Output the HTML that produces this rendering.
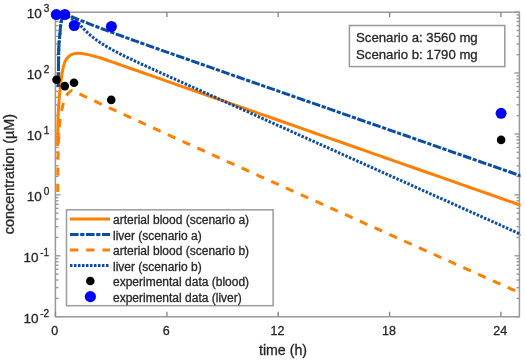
<!DOCTYPE html>
<html><head><meta charset="utf-8"><style>
html,body{margin:0;padding:0;background:#fff;width:526px;height:361px;overflow:hidden}
svg{display:block;font-family:"Liberation Sans", sans-serif;will-change:transform}
text{stroke:#262626;stroke-width:0.3px}
</style></head><body>
<svg width="526" height="361" viewBox="0 0 526 361">
<defs><clipPath id="ax"><rect x="55.5" y="12.1" width="465.0" height="304.6"/></clipPath></defs>
<path d="M55.4 316.8 V12.2 H519.4 V316.8 Z" fill="none" stroke="#999999" stroke-width="1.5"/>
<line x1="55.5" y1="316.7" x2="55.5" y2="311.7" stroke="#808080" stroke-width="1.3"/>
<line x1="55.5" y1="12.1" x2="55.5" y2="17.1" stroke="#808080" stroke-width="1.3"/>
<text x="54.8" y="335" text-anchor="middle" font-size="12.5" fill="#262626">0</text>
<line x1="166.9" y1="316.7" x2="166.9" y2="311.7" stroke="#808080" stroke-width="1.3"/>
<line x1="166.9" y1="12.1" x2="166.9" y2="17.1" stroke="#808080" stroke-width="1.3"/>
<text x="166.2" y="335" text-anchor="middle" font-size="12.5" fill="#262626">6</text>
<line x1="278.2" y1="316.7" x2="278.2" y2="311.7" stroke="#808080" stroke-width="1.3"/>
<line x1="278.2" y1="12.1" x2="278.2" y2="17.1" stroke="#808080" stroke-width="1.3"/>
<text x="277.5" y="335" text-anchor="middle" font-size="12.5" fill="#262626">12</text>
<line x1="389.6" y1="316.7" x2="389.6" y2="311.7" stroke="#808080" stroke-width="1.3"/>
<line x1="389.6" y1="12.1" x2="389.6" y2="17.1" stroke="#808080" stroke-width="1.3"/>
<text x="388.9" y="335" text-anchor="middle" font-size="12.5" fill="#262626">18</text>
<line x1="500.9" y1="316.7" x2="500.9" y2="311.7" stroke="#808080" stroke-width="1.3"/>
<line x1="500.9" y1="12.1" x2="500.9" y2="17.1" stroke="#808080" stroke-width="1.3"/>
<text x="500.2" y="335" text-anchor="middle" font-size="12.5" fill="#262626">24</text>
<line x1="55.5" y1="316.70" x2="60.5" y2="316.70" stroke="#999999" stroke-width="1.4"/>
<line x1="519.5" y1="316.70" x2="514.5" y2="316.70" stroke="#999999" stroke-width="1.4"/>
<line x1="55.5" y1="298.36" x2="58.5" y2="298.36" stroke="#999999" stroke-width="1.4"/>
<line x1="519.5" y1="298.36" x2="516.5" y2="298.36" stroke="#999999" stroke-width="1.4"/>
<line x1="55.5" y1="287.63" x2="58.5" y2="287.63" stroke="#999999" stroke-width="1.4"/>
<line x1="519.5" y1="287.63" x2="516.5" y2="287.63" stroke="#999999" stroke-width="1.4"/>
<line x1="55.5" y1="280.02" x2="58.5" y2="280.02" stroke="#999999" stroke-width="1.4"/>
<line x1="519.5" y1="280.02" x2="516.5" y2="280.02" stroke="#999999" stroke-width="1.4"/>
<line x1="55.5" y1="274.12" x2="58.5" y2="274.12" stroke="#999999" stroke-width="1.4"/>
<line x1="519.5" y1="274.12" x2="516.5" y2="274.12" stroke="#999999" stroke-width="1.4"/>
<line x1="55.5" y1="269.30" x2="58.5" y2="269.30" stroke="#999999" stroke-width="1.4"/>
<line x1="519.5" y1="269.30" x2="516.5" y2="269.30" stroke="#999999" stroke-width="1.4"/>
<line x1="55.5" y1="265.22" x2="58.5" y2="265.22" stroke="#999999" stroke-width="1.4"/>
<line x1="519.5" y1="265.22" x2="516.5" y2="265.22" stroke="#999999" stroke-width="1.4"/>
<line x1="55.5" y1="261.68" x2="58.5" y2="261.68" stroke="#999999" stroke-width="1.4"/>
<line x1="519.5" y1="261.68" x2="516.5" y2="261.68" stroke="#999999" stroke-width="1.4"/>
<line x1="55.5" y1="258.57" x2="58.5" y2="258.57" stroke="#999999" stroke-width="1.4"/>
<line x1="519.5" y1="258.57" x2="516.5" y2="258.57" stroke="#999999" stroke-width="1.4"/>
<text x="49.2" y="316.70" text-anchor="end" font-size="10.0" fill="#262626">-2</text>
<text x="38.51" y="322.50" text-anchor="end" font-size="13.5" fill="#262626">10</text>
<line x1="55.5" y1="255.78" x2="60.5" y2="255.78" stroke="#999999" stroke-width="1.4"/>
<line x1="519.5" y1="255.78" x2="514.5" y2="255.78" stroke="#999999" stroke-width="1.4"/>
<line x1="55.5" y1="237.44" x2="58.5" y2="237.44" stroke="#999999" stroke-width="1.4"/>
<line x1="519.5" y1="237.44" x2="516.5" y2="237.44" stroke="#999999" stroke-width="1.4"/>
<line x1="55.5" y1="226.71" x2="58.5" y2="226.71" stroke="#999999" stroke-width="1.4"/>
<line x1="519.5" y1="226.71" x2="516.5" y2="226.71" stroke="#999999" stroke-width="1.4"/>
<line x1="55.5" y1="219.10" x2="58.5" y2="219.10" stroke="#999999" stroke-width="1.4"/>
<line x1="519.5" y1="219.10" x2="516.5" y2="219.10" stroke="#999999" stroke-width="1.4"/>
<line x1="55.5" y1="213.20" x2="58.5" y2="213.20" stroke="#999999" stroke-width="1.4"/>
<line x1="519.5" y1="213.20" x2="516.5" y2="213.20" stroke="#999999" stroke-width="1.4"/>
<line x1="55.5" y1="208.38" x2="58.5" y2="208.38" stroke="#999999" stroke-width="1.4"/>
<line x1="519.5" y1="208.38" x2="516.5" y2="208.38" stroke="#999999" stroke-width="1.4"/>
<line x1="55.5" y1="204.30" x2="58.5" y2="204.30" stroke="#999999" stroke-width="1.4"/>
<line x1="519.5" y1="204.30" x2="516.5" y2="204.30" stroke="#999999" stroke-width="1.4"/>
<line x1="55.5" y1="200.76" x2="58.5" y2="200.76" stroke="#999999" stroke-width="1.4"/>
<line x1="519.5" y1="200.76" x2="516.5" y2="200.76" stroke="#999999" stroke-width="1.4"/>
<line x1="55.5" y1="197.65" x2="58.5" y2="197.65" stroke="#999999" stroke-width="1.4"/>
<line x1="519.5" y1="197.65" x2="516.5" y2="197.65" stroke="#999999" stroke-width="1.4"/>
<text x="49.2" y="255.78" text-anchor="end" font-size="10.0" fill="#262626">-1</text>
<text x="38.51" y="261.58" text-anchor="end" font-size="13.5" fill="#262626">10</text>
<line x1="55.5" y1="194.86" x2="60.5" y2="194.86" stroke="#999999" stroke-width="1.4"/>
<line x1="519.5" y1="194.86" x2="514.5" y2="194.86" stroke="#999999" stroke-width="1.4"/>
<line x1="55.5" y1="176.52" x2="58.5" y2="176.52" stroke="#999999" stroke-width="1.4"/>
<line x1="519.5" y1="176.52" x2="516.5" y2="176.52" stroke="#999999" stroke-width="1.4"/>
<line x1="55.5" y1="165.79" x2="58.5" y2="165.79" stroke="#999999" stroke-width="1.4"/>
<line x1="519.5" y1="165.79" x2="516.5" y2="165.79" stroke="#999999" stroke-width="1.4"/>
<line x1="55.5" y1="158.18" x2="58.5" y2="158.18" stroke="#999999" stroke-width="1.4"/>
<line x1="519.5" y1="158.18" x2="516.5" y2="158.18" stroke="#999999" stroke-width="1.4"/>
<line x1="55.5" y1="152.28" x2="58.5" y2="152.28" stroke="#999999" stroke-width="1.4"/>
<line x1="519.5" y1="152.28" x2="516.5" y2="152.28" stroke="#999999" stroke-width="1.4"/>
<line x1="55.5" y1="147.46" x2="58.5" y2="147.46" stroke="#999999" stroke-width="1.4"/>
<line x1="519.5" y1="147.46" x2="516.5" y2="147.46" stroke="#999999" stroke-width="1.4"/>
<line x1="55.5" y1="143.38" x2="58.5" y2="143.38" stroke="#999999" stroke-width="1.4"/>
<line x1="519.5" y1="143.38" x2="516.5" y2="143.38" stroke="#999999" stroke-width="1.4"/>
<line x1="55.5" y1="139.84" x2="58.5" y2="139.84" stroke="#999999" stroke-width="1.4"/>
<line x1="519.5" y1="139.84" x2="516.5" y2="139.84" stroke="#999999" stroke-width="1.4"/>
<line x1="55.5" y1="136.73" x2="58.5" y2="136.73" stroke="#999999" stroke-width="1.4"/>
<line x1="519.5" y1="136.73" x2="516.5" y2="136.73" stroke="#999999" stroke-width="1.4"/>
<text x="49.2" y="194.86" text-anchor="end" font-size="10.0" fill="#262626">0</text>
<text x="41.84" y="200.66" text-anchor="end" font-size="13.5" fill="#262626">10</text>
<line x1="55.5" y1="133.94" x2="60.5" y2="133.94" stroke="#999999" stroke-width="1.4"/>
<line x1="519.5" y1="133.94" x2="514.5" y2="133.94" stroke="#999999" stroke-width="1.4"/>
<line x1="55.5" y1="115.60" x2="58.5" y2="115.60" stroke="#999999" stroke-width="1.4"/>
<line x1="519.5" y1="115.60" x2="516.5" y2="115.60" stroke="#999999" stroke-width="1.4"/>
<line x1="55.5" y1="104.87" x2="58.5" y2="104.87" stroke="#999999" stroke-width="1.4"/>
<line x1="519.5" y1="104.87" x2="516.5" y2="104.87" stroke="#999999" stroke-width="1.4"/>
<line x1="55.5" y1="97.26" x2="58.5" y2="97.26" stroke="#999999" stroke-width="1.4"/>
<line x1="519.5" y1="97.26" x2="516.5" y2="97.26" stroke="#999999" stroke-width="1.4"/>
<line x1="55.5" y1="91.36" x2="58.5" y2="91.36" stroke="#999999" stroke-width="1.4"/>
<line x1="519.5" y1="91.36" x2="516.5" y2="91.36" stroke="#999999" stroke-width="1.4"/>
<line x1="55.5" y1="86.54" x2="58.5" y2="86.54" stroke="#999999" stroke-width="1.4"/>
<line x1="519.5" y1="86.54" x2="516.5" y2="86.54" stroke="#999999" stroke-width="1.4"/>
<line x1="55.5" y1="82.46" x2="58.5" y2="82.46" stroke="#999999" stroke-width="1.4"/>
<line x1="519.5" y1="82.46" x2="516.5" y2="82.46" stroke="#999999" stroke-width="1.4"/>
<line x1="55.5" y1="78.92" x2="58.5" y2="78.92" stroke="#999999" stroke-width="1.4"/>
<line x1="519.5" y1="78.92" x2="516.5" y2="78.92" stroke="#999999" stroke-width="1.4"/>
<line x1="55.5" y1="75.81" x2="58.5" y2="75.81" stroke="#999999" stroke-width="1.4"/>
<line x1="519.5" y1="75.81" x2="516.5" y2="75.81" stroke="#999999" stroke-width="1.4"/>
<text x="49.2" y="133.94" text-anchor="end" font-size="10.0" fill="#262626">1</text>
<text x="41.84" y="139.74" text-anchor="end" font-size="13.5" fill="#262626">10</text>
<line x1="55.5" y1="73.02" x2="60.5" y2="73.02" stroke="#999999" stroke-width="1.4"/>
<line x1="519.5" y1="73.02" x2="514.5" y2="73.02" stroke="#999999" stroke-width="1.4"/>
<line x1="55.5" y1="54.68" x2="58.5" y2="54.68" stroke="#999999" stroke-width="1.4"/>
<line x1="519.5" y1="54.68" x2="516.5" y2="54.68" stroke="#999999" stroke-width="1.4"/>
<line x1="55.5" y1="43.95" x2="58.5" y2="43.95" stroke="#999999" stroke-width="1.4"/>
<line x1="519.5" y1="43.95" x2="516.5" y2="43.95" stroke="#999999" stroke-width="1.4"/>
<line x1="55.5" y1="36.34" x2="58.5" y2="36.34" stroke="#999999" stroke-width="1.4"/>
<line x1="519.5" y1="36.34" x2="516.5" y2="36.34" stroke="#999999" stroke-width="1.4"/>
<line x1="55.5" y1="30.44" x2="58.5" y2="30.44" stroke="#999999" stroke-width="1.4"/>
<line x1="519.5" y1="30.44" x2="516.5" y2="30.44" stroke="#999999" stroke-width="1.4"/>
<line x1="55.5" y1="25.62" x2="58.5" y2="25.62" stroke="#999999" stroke-width="1.4"/>
<line x1="519.5" y1="25.62" x2="516.5" y2="25.62" stroke="#999999" stroke-width="1.4"/>
<line x1="55.5" y1="21.54" x2="58.5" y2="21.54" stroke="#999999" stroke-width="1.4"/>
<line x1="519.5" y1="21.54" x2="516.5" y2="21.54" stroke="#999999" stroke-width="1.4"/>
<line x1="55.5" y1="18.00" x2="58.5" y2="18.00" stroke="#999999" stroke-width="1.4"/>
<line x1="519.5" y1="18.00" x2="516.5" y2="18.00" stroke="#999999" stroke-width="1.4"/>
<line x1="55.5" y1="14.89" x2="58.5" y2="14.89" stroke="#999999" stroke-width="1.4"/>
<line x1="519.5" y1="14.89" x2="516.5" y2="14.89" stroke="#999999" stroke-width="1.4"/>
<text x="49.2" y="73.02" text-anchor="end" font-size="10.0" fill="#262626">2</text>
<text x="41.84" y="78.82" text-anchor="end" font-size="13.5" fill="#262626">10</text>
<line x1="55.5" y1="12.10" x2="60.5" y2="12.10" stroke="#999999" stroke-width="1.4"/>
<line x1="519.5" y1="12.10" x2="514.5" y2="12.10" stroke="#999999" stroke-width="1.4"/>
<text x="49.2" y="12.10" text-anchor="end" font-size="10.0" fill="#262626">3</text>
<text x="41.84" y="17.90" text-anchor="end" font-size="13.5" fill="#262626">10</text>
<g clip-path="url(#ax)" fill="none" stroke-width="3">
<path d="M57.60 146.00 C57.63 143.33 57.70 135.17 57.80 130.00 C57.90 124.83 57.97 120.25 58.20 115.00 C58.43 109.75 58.85 103.10 59.20 98.50 C59.55 93.90 59.93 90.87 60.30 87.40 C60.67 83.93 60.93 80.93 61.40 77.70 C61.87 74.47 62.47 70.77 63.10 68.00 C63.73 65.23 64.28 63.00 65.20 61.10 C66.12 59.20 67.47 57.73 68.60 56.60 C69.73 55.47 70.60 54.85 72.00 54.30 C73.40 53.75 75.33 53.43 77.00 53.30 C78.67 53.17 80.17 53.28 82.00 53.50 C83.83 53.72 86.00 54.15 88.00 54.60 C90.00 55.05 92.00 55.68 94.00 56.20 C96.00 56.72 98.50 57.27 100.00 57.69 C101.50 58.11 102.00 58.39 103.00 58.74 C104.00 59.09 105.00 59.44 106.00 59.79 C107.00 60.15 108.00 60.50 109.00 60.85 C110.00 61.20 111.00 61.55 112.00 61.90 C113.00 62.25 114.00 62.60 115.00 62.95 C116.00 63.30 117.00 63.65 118.00 64.00 C119.00 64.35 120.00 64.71 121.00 65.06 C122.00 65.41 123.00 65.76 124.00 66.11 C125.00 66.46 126.00 66.81 127.00 67.16 C128.00 67.51 129.00 67.86 130.00 68.21 C131.00 68.56 132.00 68.91 133.00 69.26 C134.00 69.62 135.00 69.97 136.00 70.32 C137.00 70.67 138.33 71.14 139.00 71.37 C139.67 71.60 137.83 70.96 140.00 71.72 C142.17 72.48 148.00 74.53 152.00 75.93 C156.00 77.33 160.00 78.73 164.00 80.14 C168.00 81.54 172.00 82.94 176.00 84.35 C180.00 85.75 184.00 87.15 188.00 88.56 C192.00 89.96 196.00 91.36 200.00 92.76 C204.00 94.17 208.00 95.57 212.00 96.97 C216.00 98.38 220.00 99.78 224.00 101.18 C228.00 102.59 232.00 103.99 236.00 105.39 C240.00 106.79 244.00 108.20 248.00 109.60 C252.00 111.00 256.00 112.41 260.00 113.81 C264.00 115.21 268.00 116.62 272.00 118.02 C276.00 119.42 280.00 120.82 284.00 122.23 C288.00 123.63 292.00 125.03 296.00 126.44 C300.00 127.84 304.00 129.24 308.00 130.65 C312.00 132.05 316.00 133.45 320.00 134.85 C324.00 136.26 328.00 137.66 332.00 139.06 C336.00 140.47 340.00 141.87 344.00 143.27 C348.00 144.68 352.00 146.08 356.00 147.48 C360.00 148.88 364.00 150.29 368.00 151.69 C372.00 153.09 376.00 154.50 380.00 155.90 C384.00 157.30 388.00 158.71 392.00 160.11 C396.00 161.51 400.00 162.91 404.00 164.32 C408.00 165.72 412.00 167.12 416.00 168.53 C420.00 169.93 424.00 171.33 428.00 172.74 C432.00 174.14 436.00 175.54 440.00 176.94 C444.00 178.35 448.00 179.75 452.00 181.15 C456.00 182.56 460.00 183.96 464.00 185.36 C468.00 186.76 472.00 188.17 476.00 189.57 C480.00 190.97 484.00 192.38 488.00 193.78 C492.00 195.18 496.00 196.59 500.00 197.99 C504.00 199.39 508.00 200.79 512.00 202.20 C516.00 203.60 522.00 205.71 524.00 206.41" stroke="#ff8000"/>
<path d="M58.20 87.00 C58.25 84.17 58.40 76.50 58.50 70.00 C58.60 63.50 58.55 54.17 58.80 48.00 C59.05 41.83 59.63 37.27 60.00 33.00 C60.37 28.73 60.57 24.98 61.00 22.40 C61.43 19.82 61.85 18.80 62.60 17.50 C63.35 16.20 64.43 14.93 65.50 14.60 C66.57 14.27 67.92 15.15 69.00 15.52 C70.08 15.89 71.00 16.38 72.00 16.81 C73.00 17.23 74.00 17.65 75.00 18.07 C76.00 18.49 77.00 18.91 78.00 19.32 C79.00 19.73 80.00 20.14 81.00 20.54 C82.00 20.95 83.00 21.35 84.00 21.75 C85.00 22.16 86.00 22.55 87.00 22.95 C88.00 23.34 89.00 23.74 90.00 24.13 C91.00 24.52 92.00 24.91 93.00 25.30 C94.00 25.68 95.00 26.07 96.00 26.45 C97.00 26.83 98.00 27.22 99.00 27.60 C100.00 27.98 101.00 28.35 102.00 28.73 C103.00 29.11 104.00 29.48 105.00 29.86 C106.00 30.23 107.00 30.61 108.00 30.98 C109.00 31.35 110.00 31.72 111.00 32.09 C112.00 32.46 113.00 32.83 114.00 33.20 C115.00 33.56 116.00 33.93 117.00 34.30 C118.00 34.66 119.00 35.03 120.00 35.39 C121.00 35.76 122.00 36.12 123.00 36.48 C124.00 36.84 125.00 37.21 126.00 37.57 C127.00 37.93 128.00 38.29 129.00 38.65 C130.00 39.01 131.00 39.37 132.00 39.73 C133.00 40.09 134.00 40.45 135.00 40.80 C136.00 41.16 137.17 41.58 138.00 41.88 C138.83 42.18 137.67 41.76 140.00 42.59 C142.33 43.42 148.00 45.44 152.00 46.86 C156.00 48.27 160.00 49.69 164.00 51.10 C168.00 52.51 172.00 53.91 176.00 55.32 C180.00 56.73 184.00 58.13 188.00 59.53 C192.00 60.94 196.00 62.34 200.00 63.74 C204.00 65.14 208.00 66.54 212.00 67.94 C216.00 69.34 220.00 70.74 224.00 72.14 C228.00 73.54 232.00 74.94 236.00 76.34 C240.00 77.73 244.00 79.13 248.00 80.53 C252.00 81.93 256.00 83.33 260.00 84.73 C264.00 86.12 268.00 87.52 272.00 88.92 C276.00 90.32 280.00 91.72 284.00 93.11 C288.00 94.51 292.00 95.91 296.00 97.31 C300.00 98.70 304.00 100.10 308.00 101.50 C312.00 102.90 316.00 104.30 320.00 105.69 C324.00 107.09 328.00 108.49 332.00 109.89 C336.00 111.28 340.00 112.68 344.00 114.08 C348.00 115.48 352.00 116.87 356.00 118.27 C360.00 119.67 364.00 121.07 368.00 122.47 C372.00 123.86 376.00 125.26 380.00 126.66 C384.00 128.06 388.00 129.45 392.00 130.85 C396.00 132.25 400.00 133.65 404.00 135.04 C408.00 136.44 412.00 137.84 416.00 139.24 C420.00 140.64 424.00 142.03 428.00 143.43 C432.00 144.83 436.00 146.23 440.00 147.62 C444.00 149.02 448.00 150.42 452.00 151.82 C456.00 153.21 460.00 154.61 464.00 156.01 C468.00 157.41 472.00 158.81 476.00 160.20 C480.00 161.60 484.00 163.00 488.00 164.40 C492.00 165.79 496.00 167.19 500.00 168.59 C504.00 169.99 508.00 171.38 512.00 172.78 C516.00 174.18 522.00 176.28 524.00 176.97" stroke="#0b4da3" stroke-dasharray="8.6 1.6 4.2 1.6"/>
<path d="M57.70 192.00 C57.72 188.50 57.72 178.00 57.80 171.00 C57.88 164.00 57.95 157.17 58.20 150.00 C58.45 142.83 58.87 133.83 59.30 128.00 C59.73 122.17 60.20 118.83 60.80 115.00 C61.40 111.17 62.12 107.92 62.90 105.00 C63.68 102.08 64.57 99.50 65.50 97.50 C66.43 95.50 67.42 94.18 68.50 93.00 C69.58 91.82 70.92 90.63 72.00 90.44 C73.08 90.25 74.00 91.38 75.00 91.85 C76.00 92.32 77.00 92.79 78.00 93.25 C79.00 93.72 80.00 94.19 81.00 94.66 C82.00 95.12 83.00 95.59 84.00 96.06 C85.00 96.52 86.00 96.99 87.00 97.46 C88.00 97.92 89.00 98.39 90.00 98.85 C91.00 99.32 92.00 99.78 93.00 100.25 C94.00 100.71 95.00 101.18 96.00 101.64 C97.00 102.11 98.00 102.57 99.00 103.03 C100.00 103.50 101.00 103.96 102.00 104.42 C103.00 104.89 104.00 105.35 105.00 105.81 C106.00 106.27 107.00 106.74 108.00 107.20 C109.00 107.66 110.00 108.12 111.00 108.58 C112.00 109.05 113.00 109.51 114.00 109.97 C115.00 110.43 116.00 110.89 117.00 111.35 C118.00 111.81 119.00 112.27 120.00 112.73 C121.00 113.19 122.00 113.65 123.00 114.11 C124.00 114.57 125.00 115.03 126.00 115.49 C127.00 115.95 128.00 116.41 129.00 116.87 C130.00 117.33 131.00 117.79 132.00 118.24 C133.00 118.70 134.00 119.16 135.00 119.62 C136.00 120.08 137.17 120.61 138.00 120.99 C138.83 121.37 137.67 120.84 140.00 121.91 C142.33 122.97 148.00 125.57 152.00 127.39 C156.00 129.22 160.00 131.04 164.00 132.86 C168.00 134.68 172.00 136.50 176.00 138.31 C180.00 140.13 184.00 141.94 188.00 143.76 C192.00 145.57 196.00 147.38 200.00 149.19 C204.00 151.00 208.00 152.81 212.00 154.62 C216.00 156.43 220.00 158.23 224.00 160.04 C228.00 161.85 232.00 163.65 236.00 165.45 C240.00 167.26 244.00 169.06 248.00 170.86 C252.00 172.66 256.00 174.47 260.00 176.27 C264.00 178.07 268.00 179.87 272.00 181.67 C276.00 183.47 280.00 185.26 284.00 187.06 C288.00 188.86 292.00 190.66 296.00 192.46 C300.00 194.25 304.00 196.05 308.00 197.85 C312.00 199.65 316.00 201.44 320.00 203.24 C324.00 205.03 328.00 206.83 332.00 208.63 C336.00 210.42 340.00 212.22 344.00 214.01 C348.00 215.81 352.00 217.60 356.00 219.40 C360.00 221.19 364.00 222.98 368.00 224.78 C372.00 226.57 376.00 228.37 380.00 230.16 C384.00 231.95 388.00 233.75 392.00 235.54 C396.00 237.34 400.00 239.13 404.00 240.92 C408.00 242.72 412.00 244.51 416.00 246.30 C420.00 248.10 424.00 249.89 428.00 251.68 C432.00 253.48 436.00 255.27 440.00 257.06 C444.00 258.85 448.00 260.65 452.00 262.44 C456.00 264.23 460.00 266.02 464.00 267.82 C468.00 269.61 472.00 271.40 476.00 273.20 C480.00 274.99 484.00 276.78 488.00 278.57 C492.00 280.37 496.00 282.16 500.00 283.95 C504.00 285.74 508.00 287.54 512.00 289.33 C516.00 291.12 522.00 293.81 524.00 294.70" stroke="#ff8000" stroke-dasharray="8.3 7.9"/>
<path d="M58.20 87.00 C58.25 84.17 58.40 76.50 58.50 70.00 C58.60 63.50 58.55 54.17 58.80 48.00 C59.05 41.83 59.63 37.27 60.00 33.00 C60.37 28.73 60.57 24.98 61.00 22.40 C61.43 19.82 61.77 18.65 62.60 17.50 C63.43 16.35 64.43 15.25 66.00 15.50 C67.57 15.75 70.00 17.81 72.00 19.00 C74.00 20.19 76.50 21.43 78.00 22.62 C79.50 23.80 80.00 24.98 81.00 26.09 C82.00 27.20 83.00 28.26 84.00 29.28 C85.00 30.29 86.00 31.26 87.00 32.20 C88.00 33.13 89.00 34.02 90.00 34.88 C91.00 35.74 92.00 36.56 93.00 37.35 C94.00 38.14 95.00 38.90 96.00 39.63 C97.00 40.37 98.00 41.07 99.00 41.76 C100.00 42.44 101.00 43.10 102.00 43.74 C103.00 44.39 104.00 45.01 105.00 45.62 C106.00 46.22 107.00 46.81 108.00 47.39 C109.00 47.97 110.00 48.53 111.00 49.09 C112.00 49.64 113.00 50.18 114.00 50.72 C115.00 51.25 116.00 51.78 117.00 52.29 C118.00 52.81 119.00 53.32 120.00 53.83 C121.00 54.33 122.00 54.83 123.00 55.32 C124.00 55.82 125.00 56.30 126.00 56.79 C127.00 57.27 128.00 57.75 129.00 58.23 C130.00 58.71 131.00 59.18 132.00 59.66 C133.00 60.13 134.00 60.60 135.00 61.06 C136.00 61.53 137.17 62.07 138.00 62.46 C138.83 62.85 137.67 62.32 140.00 63.39 C142.33 64.45 148.00 67.05 152.00 68.87 C156.00 70.69 160.00 72.49 164.00 74.30 C168.00 76.10 172.00 77.90 176.00 79.70 C180.00 81.49 184.00 83.29 188.00 85.08 C192.00 86.88 196.00 88.67 200.00 90.47 C204.00 92.26 208.00 94.06 212.00 95.85 C216.00 97.64 220.00 99.44 224.00 101.23 C228.00 103.02 232.00 104.82 236.00 106.61 C240.00 108.41 244.00 110.20 248.00 111.99 C252.00 113.79 256.00 115.58 260.00 117.37 C264.00 119.17 268.00 120.96 272.00 122.75 C276.00 124.55 280.00 126.34 284.00 128.13 C288.00 129.93 292.00 131.72 296.00 133.51 C300.00 135.31 304.00 137.10 308.00 138.90 C312.00 140.69 316.00 142.48 320.00 144.28 C324.00 146.07 328.00 147.86 332.00 149.66 C336.00 151.45 340.00 153.24 344.00 155.04 C348.00 156.83 352.00 158.62 356.00 160.42 C360.00 162.21 364.00 164.00 368.00 165.80 C372.00 167.59 376.00 169.38 380.00 171.18 C384.00 172.97 388.00 174.77 392.00 176.56 C396.00 178.35 400.00 180.15 404.00 181.94 C408.00 183.73 412.00 185.53 416.00 187.32 C420.00 189.11 424.00 190.91 428.00 192.70 C432.00 194.49 436.00 196.29 440.00 198.08 C444.00 199.87 448.00 201.67 452.00 203.46 C456.00 205.26 460.00 207.05 464.00 208.84 C468.00 210.64 472.00 212.43 476.00 214.22 C480.00 216.02 484.00 217.81 488.00 219.60 C492.00 221.40 496.00 223.19 500.00 224.98 C504.00 226.78 508.00 228.57 512.00 230.36 C516.00 232.16 522.00 234.85 524.00 235.75" stroke="#0b4da3" stroke-dasharray="2.5 1.5"/>
</g>
<circle cx="56.50" cy="79.70" r="4.3" fill="#000"/>
<circle cx="64.80" cy="86.10" r="4.3" fill="#000"/>
<circle cx="74.00" cy="82.80" r="4.3" fill="#000"/>
<circle cx="111.25" cy="99.90" r="4.3" fill="#000"/>
<circle cx="501.10" cy="139.90" r="4.3" fill="#000"/>
<circle cx="56.30" cy="14.60" r="5.5" fill="#0000ff"/>
<circle cx="64.80" cy="14.50" r="5.5" fill="#0000ff"/>
<circle cx="74.20" cy="25.50" r="5.5" fill="#0000ff"/>
<circle cx="111.40" cy="26.50" r="5.5" fill="#0000ff"/>
<circle cx="501.10" cy="113.30" r="5.5" fill="#0000ff"/>
<text x="283" y="355" text-anchor="middle" font-size="14.2" fill="#262626">time (h)</text>
<text transform="translate(14,174) rotate(-90)" text-anchor="middle" font-size="14.4" fill="#262626">concentration (µM)</text>
<rect x="349.4" y="25.5" width="155.4" height="41.1" fill="#fff" stroke="#999" stroke-width="1.5"/>
<text x="356" y="42.0" font-size="13.2" fill="#262626">Scenario a: 3560 mg</text>
<text x="356" y="59.3" font-size="13.2" fill="#262626">Scenario b: 1790 mg</text>
<rect x="66.5" y="209.8" width="206.6" height="95.9" fill="#fff" stroke="#9c9c9c" stroke-width="1.5"/>
<line x1="70" y1="219.1" x2="110" y2="219.1" stroke="#ff8000" stroke-width="3"/>
<line x1="70" y1="234.6" x2="110" y2="234.6" stroke="#0b4da3" stroke-width="3" stroke-dasharray="8.6 1.6 4.2 1.6"/>
<line x1="70" y1="250.0" x2="110" y2="250.0" stroke="#ff8000" stroke-width="3" stroke-dasharray="8.3 7.9"/>
<line x1="70" y1="265.5" x2="110" y2="265.5" stroke="#0b4da3" stroke-width="3" stroke-dasharray="2.5 1.5"/>
<circle cx="90.3" cy="281.0" r="4.3" fill="#000"/>
<circle cx="90.4" cy="296.6" r="5.6" fill="#0000ff"/>
<text x="113" y="224.1" font-size="12" fill="#262626">arterial blood (scenario a)</text>
<text x="113" y="239.6" font-size="12" fill="#262626">liver (scenario a)</text>
<text x="113" y="255.0" font-size="12" fill="#262626">arterial blood (scenario b)</text>
<text x="113" y="270.5" font-size="12" fill="#262626">liver (scenario b)</text>
<text x="113" y="286.0" font-size="12" fill="#262626">experimental data (blood)</text>
<text x="113" y="301.6" font-size="12" fill="#262626">experimental data (liver)</text>
</svg>
</body></html>
